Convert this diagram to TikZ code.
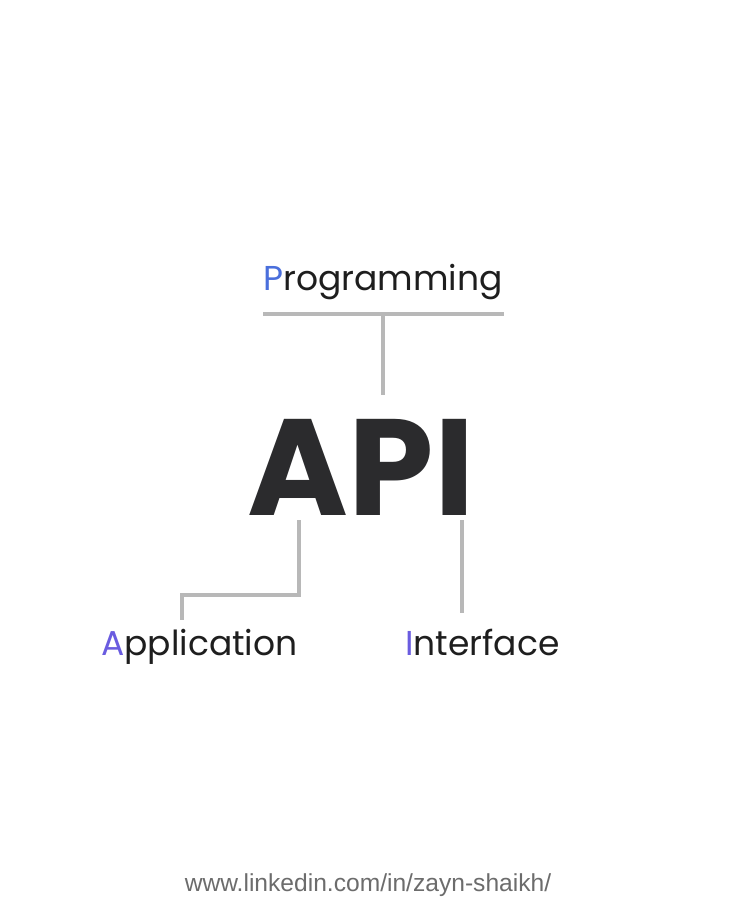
\documentclass[tikz,border=0pt]{standalone}
\usepackage{fontspec}
\setmainfont{Poppins}
\newfontfamily\footfont{Liberation Sans}
\definecolor{lbl}{HTML}{1E1E1E}
\definecolor{apic}{HTML}{2B2B2D}
\definecolor{pblue}{HTML}{4A6FDC}
\definecolor{apurp}{HTML}{6A5CE0}
\definecolor{linec}{HTML}{B8B8B8}
\begin{document}
\begin{tikzpicture}[x=1pt,y=-1pt,
  lbl/.style={inner sep=0pt,anchor=base west,text=lbl,font=\fontsize{34.5}{34.5}\selectfont},
  conn/.style={draw=linec,line width=4pt}]
\useasboundingbox[fill=white] (0,0) rectangle (736,920);
\node[inner sep=0pt,anchor=base,text=apic,font=\fontsize{137}{137}\selectfont\bfseries] (api) at (361,515) {API};
\node[lbl] (prog) at (263,290) {\textcolor{pblue}{P}rogramming};
\node[lbl] (app) at (101,655) {\textcolor{apurp}{A}pplication};
\node[lbl] (intf) at (405,655) {\textcolor{apurp}{I}nterface};
\node[inner sep=0pt,anchor=base,text=gray!85!black,font=\footfont\fontsize{24.6}{24.6}\selectfont] (foot) at (368,891) {www.linkedin.com/in/zayn-shaikh/};
\coordinate (pl) at (263,314); \coordinate (pr) at (504,314);
\coordinate (pm) at (383,314); \coordinate (pb) at (383,395);
\coordinate (a1) at (299,520); \coordinate (a2) at (299,595);
\coordinate (a3) at (182,595); \coordinate (a4) at (182,620);
\coordinate (i1) at (462,520); \coordinate (i2) at (462,613);
\draw[conn] (pl) -- (pr);
\draw[conn] (pm) -- (pb);
\draw[conn] (a1) -- (a2) -- (a3) -- (a4);
\draw[conn] (i1) -- (i2);
\end{tikzpicture}
\end{document}
